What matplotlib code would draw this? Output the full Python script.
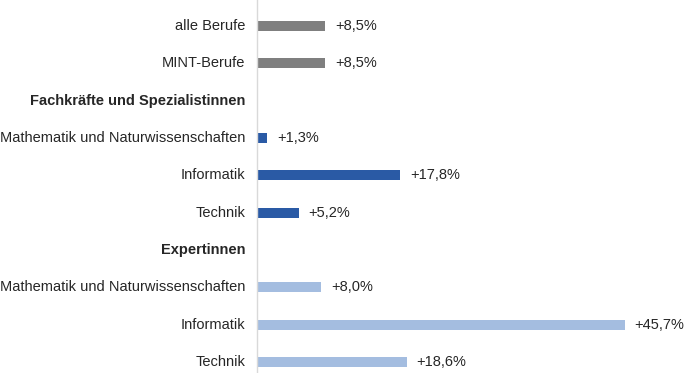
import matplotlib.pyplot as plt

# Data
labels = ["alle Berufe", "MINT-Berufe", "Fachkräfte und Spezialistinnen",
          "Mathematik und Naturwissenschaften", "Informatik", "Technik",
          "Expertinnen",
          "Mathematik und Naturwissenschaften", "Informatik", "Technik"]
values = [8.5, 8.5, None, 1.3, 17.8, 5.2, None, 8.0, 45.7, 18.6]
groups = ["all", "all", "head", "fach", "fach", "fach", "head", "exp", "exp", "exp"]

group_colors = {"all": "#7f7f7f", "fach": "#2a5aa5", "exp": "#a4bde0"}

plt.rcParams["font.family"] = ["Liberation Sans", "DejaVu Sans"]

fig = plt.figure(figsize=(6.85, 3.73), dpi=100)
ax = fig.add_axes([0.375, 0.0, 0.625, 1.0])

for i, (lab, val, grp) in enumerate(zip(labels, values, groups)):
    if grp == "head":
        ax.text(-0.027, i, lab, transform=ax.get_yaxis_transform(),
                ha="right", va="center", fontsize=10.5, fontweight="bold",
                color="#262626")
        continue
    ax.barh(i, val, height=0.27, color=group_colors[grp])
    ax.text(-0.027, i, lab, transform=ax.get_yaxis_transform(),
            ha="right", va="center", fontsize=10.5, color="#262626")
    ax.text(val + 1.2, i, "+" + f"{val:.1f}".replace(".", ",") + "%",
            ha="left", va="center", fontsize=10.5, color="#262626")

ax.set_xlim(0, 53.2)
ax.set_ylim(9.295, -0.696)
ax.set_xticks([])
ax.set_yticks([])
for side in ["top", "right", "bottom"]:
    ax.spines[side].set_visible(False)
ax.spines["left"].set_color("#d9d9d9")
ax.spines["left"].set_linewidth(1)

fig.savefig("out.png", dpi=100)
